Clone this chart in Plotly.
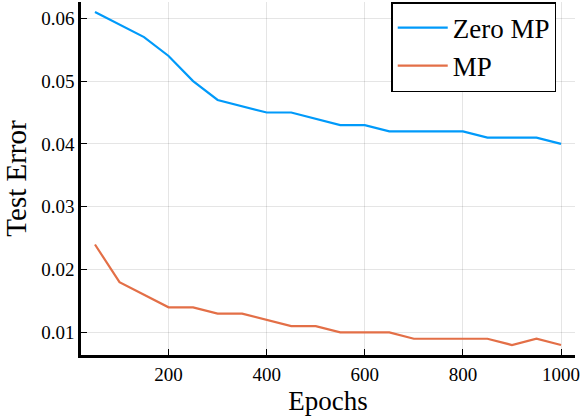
import plotly.graph_objects as go

# data
epochs = [50, 100, 150, 200, 250, 300, 350, 400, 450, 500,
          550, 600, 650, 700, 750, 800, 850, 900, 950, 1000]
zero_mp = [0.061, 0.059, 0.057, 0.054, 0.050, 0.047, 0.046, 0.045, 0.045, 0.044,
           0.043, 0.043, 0.042, 0.042, 0.042, 0.042, 0.041, 0.041, 0.041, 0.040]
mp = [0.024, 0.018, 0.016, 0.014, 0.014, 0.013, 0.013, 0.012, 0.011, 0.011,
      0.010, 0.010, 0.010, 0.009, 0.009, 0.009, 0.009, 0.008, 0.009, 0.008]

FONT = "Liberation Serif"

fig = go.Figure()
fig.add_trace(go.Scatter(x=epochs, y=zero_mp, mode="lines", name="Zero MP",
                         line=dict(color="#009AFA", width=2.2)))
fig.add_trace(go.Scatter(x=epochs, y=mp, mode="lines", name="MP",
                         line=dict(color="#E36F47", width=2.2)))

axis_common = dict(
    showline=True, linecolor="black", linewidth=2.5,
    showgrid=True, gridcolor="rgba(0,0,0,0.1)", gridwidth=1,
    ticks="inside", ticklen=6, tickcolor="black", tickwidth=1,
    zeroline=False, mirror=False, automargin=False,
    tickfont=dict(size=19),
)

fig.update_layout(
    width=586, height=418,
    margin=dict(l=81, r=11, t=2, b=63),
    paper_bgcolor="white", plot_bgcolor="white",
    font=dict(family=FONT, color="black"),
    xaxis=dict(range=[21.5, 1028.5], tickvals=[200, 400, 600, 800, 1000],
               title=dict(text="Epochs", font=dict(size=27), standoff=8),
               **axis_common),
    yaxis=dict(range=[0.00641, 0.06259],
               tickvals=[0.01, 0.02, 0.03, 0.04, 0.05, 0.06], tickformat=".2f",
               title=dict(text="Test Error", font=dict(size=29), standoff=16),
               **axis_common),
    legend=dict(x=0.962, y=1.0, xanchor="right", yanchor="top",
                bordercolor="black", borderwidth=1.5, bgcolor="white",
                font=dict(size=27),
                itemwidth=50, tracegroupgap=0),
    showlegend=True,
)

# the page body has a default 8px margin; drop it so the figure sits at 0,0
fig.write_html("out.html", config={"displayModeBar": False},
               post_script="document.body.style.margin='0';")
